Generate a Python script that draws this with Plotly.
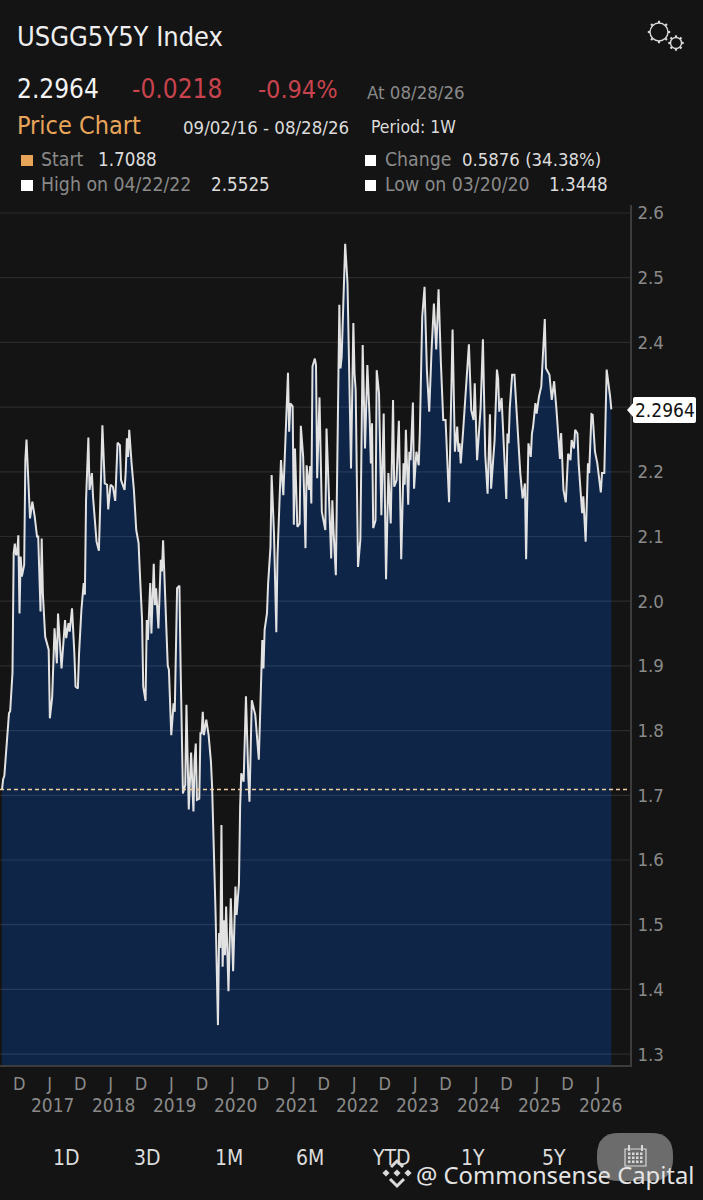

import pandas as pd
import plotly.graph_objects as go

BG = "#141414"
FILL = "rgba(14,38,74,0.97)"
LINE = "#e2e2e2"
GREY = "#8a8a8a"
SOFT = "#dcdcdc"
RED = "#c8434d"
ORANGE = "#e8a55a"
FONT = "DejaVu Sans Condensed, DejaVu Sans"

W, H = 703, 1200
LEFT, RIGHT, TOP, BOTTOM = 0, 630, 205, 1065

start_date = "2016-09-02"
start_value = 1.7088
last_value = 2.2964

# weeks since start_date and the index level at those weeks, one pair of rows per stretch
weeks_2016 = [0, 1, 2, 3, 5, 6, 7, 8, 9, 10, 11, 12, 13, 14, 15, 16, 17, 19, 20, 21, 23, 24, 26, 28, 30, 31, 33, 34, 35, 37]
value_2016 = [1.7088, 1.725, 1.73, 1.755, 1.79, 1.827, 1.83, 1.87, 1.89, 2.074, 2.089, 2.071, 2.074, 2.102, 1.981, 2.069,
              2.038, 2.056, 2.218, 2.25, 2.177, 2.128, 2.154, 2.131, 2.1, 2.1, 1.984, 2.097, 2.012, 1.945]

weeks_2017 = [40, 41, 43, 45, 47, 48, 51, 53, 54, 55, 57, 58, 60, 62, 63, 65, 66, 68, 70, 71, 72, 74, 75, 77, 78, 81, 83, 85, 86]
value_2017 = [1.925, 1.819, 1.852, 1.958, 1.904, 1.981, 1.896, 1.955, 1.971, 1.943, 1.966, 1.953, 1.989, 1.919, 1.868,
              1.865, 1.919, 1.986, 2.028, 2.01, 2.156, 2.253, 2.172, 2.198, 2.161, 2.092, 2.078, 2.203, 2.272]

weeks_2018 = [88, 90, 91, 93, 95, 97, 99, 101, 102, 105, 106, 107, 108, 109, 111, 113, 115, 117, 118, 120, 121, 123, 124, 125]
value_2018 = [2.182, 2.18, 2.142, 2.18, 2.177, 2.155, 2.245, 2.241, 2.187, 2.172, 2.2, 2.252, 2.223, 2.265, 2.213, 2.172,
              2.11, 2.09, 2.048, 1.971, 1.868, 1.846, 1.971, 1.94]

weeks_2019 = [127, 128, 130, 131, 132, 134, 136, 137, 138, 140, 142, 143, 145, 147, 148, 150, 152, 153, 155, 157, 158, 160, 162]
value_2019 = [2.028, 1.95, 2.058, 1.994, 2.02, 1.958, 2.064, 2.046, 2.094, 1.991, 1.9, 1.894, 1.793, 1.842, 1.829, 2.02,
              2.024, 1.899, 1.703, 1.716, 1.84, 1.678, 1.766]

weeks_2019b = [164, 165, 166, 167, 169, 170, 171, 172, 173, 175, 177, 179, 180, 182, 183, 185, 186, 187, 188, 189, 190, 191, 192]
value_2019b = [1.675, 1.755, 1.78, 1.693, 1.695, 1.796, 1.796, 1.829, 1.793, 1.817, 1.793, 1.752, 1.713, 1.6, 1.515, 1.3448,
               1.487, 1.464, 1.654, 1.435, 1.507, 1.453, 1.528]

weeks_2020 = [194, 196, 198, 199, 200, 201, 203, 204, 205, 207, 209, 211, 212, 214, 217, 218, 219, 220, 222, 223, 224, 225, 227]
value_2020 = [1.397, 1.541, 1.428, 1.495, 1.559, 1.515, 1.564, 1.683, 1.734, 1.721, 1.853, 1.729, 1.69, 1.847, 1.824, 1.801,
              1.77, 1.755, 1.878, 1.94, 1.896, 1.956, 1.981]

weeks_2021 = [228, 230, 231, 233, 235, 236, 238, 239, 241, 243, 245, 246, 247, 249, 250, 251, 253, 255, 256, 258, 260, 261]
value_2021 = [2.028, 2.084, 2.195, 2.105, 1.952, 2.068, 2.183, 2.218, 2.164, 2.249, 2.353, 2.262, 2.306, 2.301, 2.118, 2.236,
              2.115, 2.12, 2.271, 2.223, 2.082, 2.21]

weeks_2021b = [263, 264, 265, 266, 268, 269, 270, 272, 274, 277, 278, 282, 283, 284, 286, 289, 290, 291, 293, 294, 296, 298]
value_2021b = [2.172, 2.209, 2.151, 2.363, 2.375, 2.365, 2.19, 2.315, 2.138, 2.11, 2.267, 2.066, 2.156, 2.11, 2.04, 2.458,
               2.36, 2.378, 2.522, 2.5525, 2.491, 2.265]

weeks_2022 = [299, 301, 302, 303, 305, 307, 309, 311, 313, 315, 316, 317, 318, 320, 321, 323, 325, 327, 329, 331, 333, 335, 336]
value_2022 = [2.205, 2.43, 2.352, 2.326, 2.053, 2.095, 2.396, 2.236, 2.365, 2.28, 2.213, 2.275, 2.113, 2.125, 2.357, 2.321,
              2.133, 2.29, 2.034, 2.198, 2.12, 2.311, 2.177]

weeks_2023 = [338, 340, 342, 344, 345, 346, 348, 349, 350, 352, 353, 355, 357, 358, 360, 362, 364, 366, 368, 370, 372, 374, 376]
value_2023 = [2.187, 2.279, 2.065, 2.213, 2.18, 2.265, 2.149, 2.231, 2.218, 2.307, 2.174, 2.231, 2.21, 2.265, 2.44, 2.486,
              2.357, 2.293, 2.388, 2.46, 2.389, 2.482, 2.368]

weeks_2024 = [378, 380, 383, 386, 388, 390, 391, 392, 393, 395, 400, 402, 404, 405, 407, 410, 412, 414, 416, 418, 419, 422]
value_2024 = [2.28, 2.28, 2.153, 2.42, 2.231, 2.27, 2.231, 2.244, 2.213, 2.262, 2.397, 2.295, 2.28, 2.337, 2.218, 2.298,
              2.405, 2.226, 2.166, 2.289, 2.174, 2.249]

weeks_2024b = [424, 425, 426, 428, 432, 433, 434, 435, 437, 439, 440, 444, 446, 448, 449, 451, 453, 454, 455, 457, 458, 460]
value_2024b = [2.358, 2.344, 2.293, 2.314, 2.158, 2.259, 2.244, 2.298, 2.35, 2.35, 2.316, 2.198, 2.159, 2.182, 2.065, 2.244,
               2.223, 2.259, 2.27, 2.306, 2.29, 2.316]

weeks_2025 = [462, 465, 466, 469, 471, 473, 475, 478, 479, 481, 483, 485, 487, 488, 490, 491, 493, 494, 497, 498, 500]
value_2025 = [2.332, 2.436, 2.36, 2.35, 2.311, 2.34, 2.296, 2.22, 2.26, 2.172, 2.153, 2.228, 2.218, 2.249, 2.236, 2.265,
              2.259, 2.213, 2.136, 2.162, 2.092]

weeks_2026 = [502, 503, 505, 506, 508, 510, 513, 514, 516, 518, 520, 521, 522]
value_2026 = [2.213, 2.198, 2.289, 2.288, 2.231, 2.213, 2.168, 2.198, 2.198, 2.358, 2.332, 2.316, 2.2964]

weeks = (weeks_2016 + weeks_2017 + weeks_2018 + weeks_2019 + weeks_2019b + weeks_2020 + weeks_2021 + weeks_2021b
         + weeks_2022 + weeks_2023 + weeks_2024 + weeks_2024b + weeks_2025 + weeks_2026)
values = (value_2016 + value_2017 + value_2018 + value_2019 + value_2019b + value_2020 + value_2021 + value_2021b
          + value_2022 + value_2023 + value_2024 + value_2024b + value_2025 + value_2026)
assert len(weeks) == len(values)

y_ticks = [1.3, 1.4, 1.5, 1.6, 1.7, 1.8, 1.9, 2.0, 2.1, 2.2, 2.3, 2.4, 2.5, 2.6]
# 2.3 sits behind the last price flag
y_tick_labels = ["1.3", "1.4", "1.5", "1.6", "1.7", "1.8", "1.9", "2.0", "2.1", "2.2", "", "2.4", "2.5", "2.6"]
x_ticks = [
    "2016-12-15", "2017-06-15", "2017-12-15", "2018-06-15", "2018-12-15", "2019-06-15", "2019-12-15", "2020-06-15",
    "2020-12-15", "2021-06-15", "2021-12-15", "2022-06-15", "2022-12-15", "2023-06-15", "2023-12-15", "2024-06-15",
    "2024-12-15", "2025-06-15", "2025-12-15", "2026-06-15",
]
x_tick_labels = ["D", "J"] * 10
years = ["2017", "2018", "2019", "2020", "2021", "2022", "2023", "2024", "2025", "2026"]
ranges = ["1D", "3D", "1M", "6M", "YTD", "1Y", "5Y"]


def _px(x):
    return (x - LEFT) / (RIGHT - LEFT)


def _py(y):
    return (BOTTOM - y) / (BOTTOM - TOP)


def _text(x, y, text, size, color=SOFT, anchor="left", font=FONT):
    return dict(
        text=text, x=_px(x), y=_py(y), xref="paper", yref="paper", xanchor=anchor, yanchor="middle",
        showarrow=False, font=dict(size=size, color=color, family=font),
    )


def _box(x0, y0, x1, y1, color):
    return dict(type="rect", xref="paper", yref="paper", x0=_px(x0), x1=_px(x1), y0=_py(y0), y1=_py(y1),
                fillcolor=color, line_width=0, layer="above")


def _path(points, color=None, line=None, width=1, closed=True):
    d = "M" + " L".join(f"{_px(a):.5f},{_py(b):.5f}" for a, b in points) + (" Z" if closed else "")
    return dict(type="path", xref="paper", yref="paper", path=d, fillcolor=color,
                line=dict(color=line or "rgba(0,0,0,0)", width=width), layer="above")


def _round_rect(x0, y0, x1, y1, r, color):
    d = (f"M{_px(x0 + r):.5f},{_py(y0):.5f} L{_px(x1 - r):.5f},{_py(y0):.5f} "
         f"Q{_px(x1):.5f},{_py(y0):.5f} {_px(x1):.5f},{_py(y0 + r):.5f} L{_px(x1):.5f},{_py(y1 - r):.5f} "
         f"Q{_px(x1):.5f},{_py(y1):.5f} {_px(x1 - r):.5f},{_py(y1):.5f} L{_px(x0 + r):.5f},{_py(y1):.5f} "
         f"Q{_px(x0):.5f},{_py(y1):.5f} {_px(x0):.5f},{_py(y1 - r):.5f} L{_px(x0):.5f},{_py(y0 + r):.5f} "
         f"Q{_px(x0):.5f},{_py(y0):.5f} {_px(x0 + r):.5f},{_py(y0):.5f} Z")
    return dict(type="path", xref="paper", yref="paper", path=d, fillcolor=color, line_width=0, layer="above")


def _gear(cx, cy, r, color):
    """Outline circle with small square teeth."""
    shapes = [dict(type="circle", xref="paper", yref="paper", x0=_px(cx - r), x1=_px(cx + r), y0=_py(cy - r),
                   y1=_py(cy + r), line=dict(color=color, width=1.4), layer="above")]
    s = 0.7071
    for dx, dy in [(1, 0), (-1, 0), (0, 1), (0, -1), (s, s), (-s, s), (s, -s), (-s, -s)]:
        shapes.append(_path([(cx + dx * r, cy + dy * r), (cx + dx * (r + 2.2), cy + dy * (r + 2.2))],
                            line=color, width=2.2, closed=False))
    return shapes


def _diamond(cx, cy, r, color):
    return _path([(cx, cy - r), (cx + r, cy), (cx, cy + r), (cx - r, cy)], color=color)


dates = pd.Timestamp(start_date) + pd.to_timedelta([w * 7 for w in weeks], unit="D")
x_left = pd.Timestamp(start_date) - pd.Timedelta(days=12)
x_right = pd.Timestamp(start_date) + pd.Timedelta(days=538 * 7)
y_low = 2.6 - (BOTTOM - 213) / 647
y_high = 2.6 + (213 - TOP) / 647

fig = go.Figure()
fig.add_trace(go.Scatter(x=dates, y=values, mode="lines", fill="tozeroy", fillcolor=FILL,
                         line=dict(color=LINE, width=2), hoverinfo="skip"))

shapes = []
for tick in y_ticks:
    shapes.append(dict(type="line", xref="paper", yref="y", x0=0, x1=1, y0=tick, y1=tick,
                       line=dict(color="rgba(255,255,255,0.10)", width=1.2), layer="above"))
shapes.append(dict(type="line", xref="paper", yref="y", x0=0, x1=1, y0=start_value, y1=start_value,
                   line=dict(color="#f2cda2", width=1.5, dash="4px,3px"), layer="above"))

# legend squares
shapes.append(_box(21, 155, 33, 166, ORANGE))
shapes.append(_box(365, 155, 376, 166, "#ffffff"))
shapes.append(_box(21, 180, 33, 191, "#ffffff"))
shapes.append(_box(365, 180, 376, 191, "#ffffff"))

# last price flag
shapes.append(_round_rect(633, 397, 696, 423, 2, "#ffffff"))
shapes.append(_path([(627, 410), (634, 402), (634, 418)], color="#ffffff"))

shapes += _gear(659, 32, 9, "#d8d8d8")
shapes += _gear(676, 43, 5.5, "#d8d8d8")

# calendar button
shapes.append(_round_rect(597, 1133, 673, 1181, 22, "#6c6c6c"))
shapes.append(dict(type="rect", xref="paper", yref="paper", x0=_px(625), x1=_px(646), y0=_py(1149), y1=_py(1166),
                   line=dict(color="#d8d8d8", width=1.2), layer="above"))
shapes.append(_box(628, 1145, 630, 1151, "#d8d8d8"))
shapes.append(_box(641, 1145, 643, 1151, "#d8d8d8"))
for col in range(4):
    for row in range(3):
        shapes.append(_box(628 + col * 4, 1152.5 + row * 4, 630.5 + col * 4, 1155 + row * 4, "#d8d8d8"))

# watermark logo
shapes.append(_diamond(397, 1173, 3.6, "#dadada"))
shapes.append(_diamond(386, 1173, 3.6, "#dadada"))
shapes.append(_diamond(408, 1173, 3.6, "#dadada"))
shapes.append(_path([(391, 1167), (397, 1161), (403, 1167)], line="#dadada", width=3, closed=False))
shapes.append(_path([(390, 1179), (397, 1186), (404, 1179)], line="#dadada", width=3, closed=False))

notes = [
    _text(15, 36, "USGG5Y5Y Index", 27, "#eeeeee"),
    _text(15, 89, "2.2964", 26, "#f2f2f2"),
    _text(130, 89, "-0.0218", 26, RED),
    _text(256, 89, "-0.94%", 25, RED),
    _text(365, 92, "At 08/28/26", 18.5, GREY),
    _text(15, 125, "Price Chart", 25, ORANGE),
    _text(181, 127, "09/02/16 - 08/28/26", 18.5, SOFT),
    _text(369, 127, "Period: 1W", 17.5, SOFT),
    _text(39, 160, "Start", 19.3, GREY),
    _text(96, 160, "1.7088", 18.7, SOFT),
    _text(383, 160, "Change", 19.3, GREY),
    _text(460, 160, "0.5876 (34.38%)", 18.4, SOFT),
    _text(39, 185, "High on 04/22/22", 19.3, GREY),
    _text(209, 185, "2.5525", 18.7, SOFT),
    _text(383, 185, "Low on 03/20/20", 19.3, GREY),
    _text(547, 185, "1.3448", 18.7, SOFT),
    _text(665, 410, f"{last_value:.4f}", 19, "#111111", anchor="center"),
    _text(414, 1175, "@ Commonsense Capital", 23.8, "#e4e4e4", font="Noto Sans"),
]
for i, label in enumerate(ranges):
    notes.append(_text(66 + i * 81.3, 1158, label, 21, SOFT, anchor="center"))
for i, year in enumerate(years):
    notes.append(dict(text=year, x=f"{year}-07-05", xref="x", y=_py(1105), yref="paper", xanchor="center",
                      yanchor="middle", showarrow=False, font=dict(size=19, color=GREY, family=FONT)))

fig.update_layout(
    width=W, height=H,
    margin=dict(l=LEFT, r=W - RIGHT, t=TOP, b=H - BOTTOM, autoexpand=False),
    paper_bgcolor=BG, plot_bgcolor=BG,
    showlegend=False,
    font=dict(family=FONT, color=GREY),
    shapes=shapes, annotations=notes,
    xaxis=dict(
        type="date", range=[x_left, x_right], showgrid=False, zeroline=False,
        tickmode="array", tickvals=x_ticks, ticktext=x_tick_labels, tickangle=0,
        ticks="outside", ticklen=2, tickcolor="rgba(0,0,0,0)", tickfont=dict(size=18, color=GREY),
        showline=True, linecolor="#3c3c3c", linewidth=1.5,
    ),
    yaxis=dict(
        range=[y_low, y_high], side="right", showgrid=False, zeroline=False,
        tickmode="array", tickvals=y_ticks, ticktext=y_tick_labels,
        ticks="outside", ticklen=2, tickcolor="rgba(0,0,0,0)", tickfont=dict(size=18.5, color=GREY),
        showline=True, linecolor="#3c3c3c", linewidth=1.5,
    ),
)

fig.write_html(
    "out.html",
    config={"displayModeBar": False},
    post_script="document.body.style.margin='0';document.body.style.background='#141414';",
)
